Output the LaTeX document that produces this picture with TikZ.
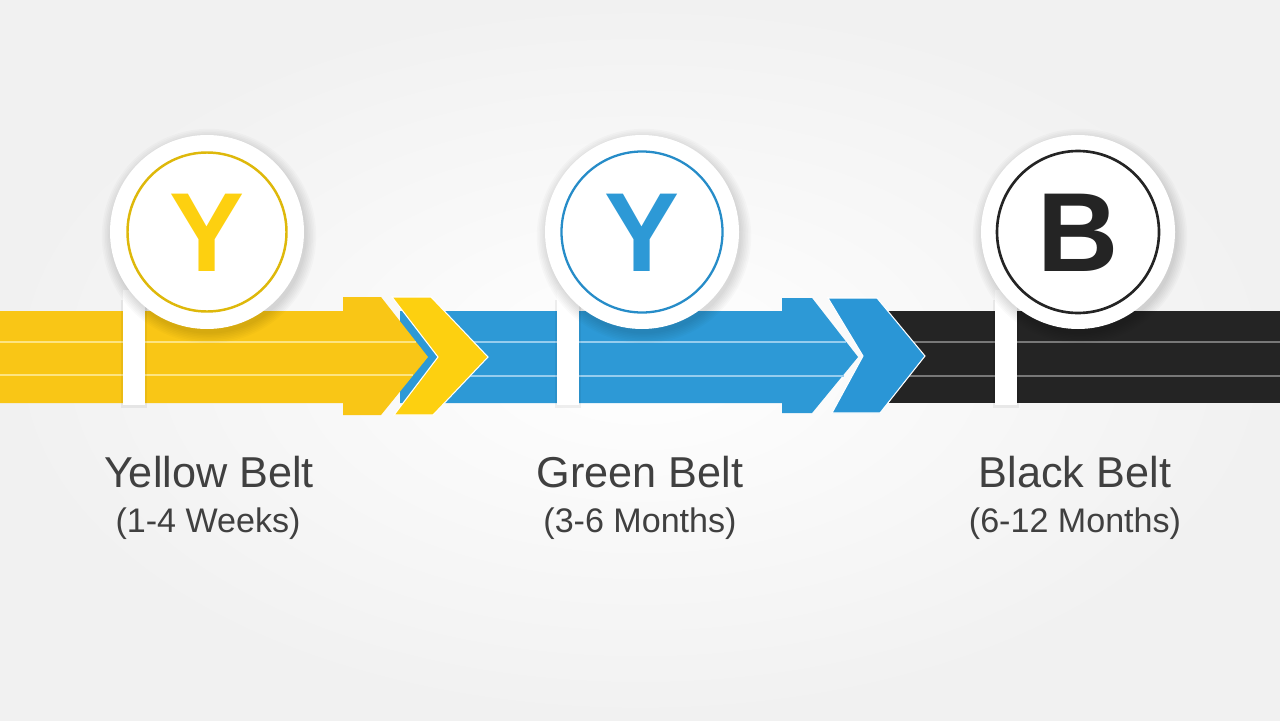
\documentclass[tikz,border=0pt]{standalone}
\usepackage{fontspec}
\setmainfont{Liberation Sans}
\usetikzlibrary{calc}
\definecolor{bgedge}{RGB}{241,241,241}
\definecolor{ycol}{RGB}{249,198,22}
\definecolor{ycolb}{RGB}{253,208,16}
\definecolor{ystripe}{RGB}{253,228,130}
\definecolor{yring}{RGB}{222,184,10}
\definecolor{bcol}{RGB}{45,153,214}
\definecolor{bcolb}{RGB}{42,150,214}
\definecolor{bstripe}{RGB}{150,205,238}
\definecolor{bring}{RGB}{38,140,200}
\definecolor{kcol}{RGB}{36,36,36}
\definecolor{kstripe}{RGB}{120,120,120}
\definecolor{txtcol}{RGB}{64,64,64}
\tikzset{
  stripe/.style={line width=1.6pt},
  letter/.style={inner sep=0pt, font=\fontsize{64}{64}\selectfont\bfseries},
  title/.style={inner sep=0pt, anchor=base, text=txtcol, font=\fontsize{24.6}{28}\selectfont},
  sub/.style={inner sep=0pt, anchor=base, text=txtcol, font=\fontsize{19.4}{22}\selectfont},
}
\begin{document}
\begin{tikzpicture}[x=0.02cm,y=-0.02cm]
\useasboundingbox (0,0) rectangle (1280,720);
\shade[inner color=white, outer color=bgedge] (0,0) rectangle (1280,720);

% black band
\fill[kcol] (870,311) rectangle (1280,403);
\draw[kstripe, stripe] (887,342) -- (1280,342);
\draw[kstripe, stripe] (887,376) -- (1280,376);

% blue band and arrow
\fill[bcol] (400,311) -- (782,311) -- (782,298) -- (812,298) -- (858,357) -- (812,413) -- (782,413) -- (782,403) -- (400,403) -- cycle;
\draw[bstripe, stripe] (440,342) -- (846,342);
\draw[bstripe, stripe] (440,376) -- (844,376);
% blue chevron
\fill[bcolb, draw=white, line width=0.6pt] (828,298) -- (877,298) -- (925,356) -- (880,413) -- (832,413) -- (863,356) -- cycle;

% yellow band and arrow
\fill[ycol] (0,311) -- (343,311) -- (343,297) -- (381,297) -- (428,357) -- (381,415) -- (343,415) -- (343,403) -- (0,403) -- cycle;
\draw[ystripe, stripe] (0,342) -- (416,342);
\draw[ystripe, stripe] (0,375) -- (413,375);
% yellow chevron
\fill[ycolb, draw=white, line width=0.6pt] (392,297) -- (431,297) -- (488,357) -- (433,415) -- (394,415) -- (438,357) -- cycle;

% stems
\foreach \sx in {123,557,995}{
  \fill[black, opacity=0.06] (\sx-2,300) rectangle (\sx+24,408);
  \fill[white] (\sx,290) rectangle (\sx+22,405);
}

% circles with shadows
\foreach \cx in {207,642,1078}{
  \foreach \i in {1,...,7}{
    \fill[black, opacity=0.02] (\cx+2,236) circle ({96+\i*1.6});
  }
  \fill[white] (\cx,232) circle (97);
}
\node[circle, inner sep=0pt, minimum size=159*0.02cm, draw=yring, line width=1.4pt] (yring) at (207,232) {};
\node[circle, inner sep=0pt, minimum size=161*0.02cm, draw=bring, line width=1.3pt] (bring) at (642,232) {};
\node[circle, inner sep=0pt, minimum size=162*0.02cm, draw=kcol, line width=1.5pt] (kring) at (1078,232) {};

\node[letter, text=ycolb] (ylet) at (207,233) {Y};
\node[letter, text=bcol] (blet) at (642,233) {Y};
\node[letter, text=kcol] (klet) at (1078,233) {B};

% labels
\node[title] (yt) at (209,487) {Yellow Belt};
\node[sub] (ys) at (208,532) {(1-4 Weeks)};
\node[title] (gt) at (640,487) {Green Belt};
\node[sub] (gs) at (640,532) {(3-6 Months)};
\node[title] (kt) at (1075,487) {Black Belt};
\node[sub] (ks) at (1075,532) {(6-12 Months)};
\end{tikzpicture}
\end{document}
